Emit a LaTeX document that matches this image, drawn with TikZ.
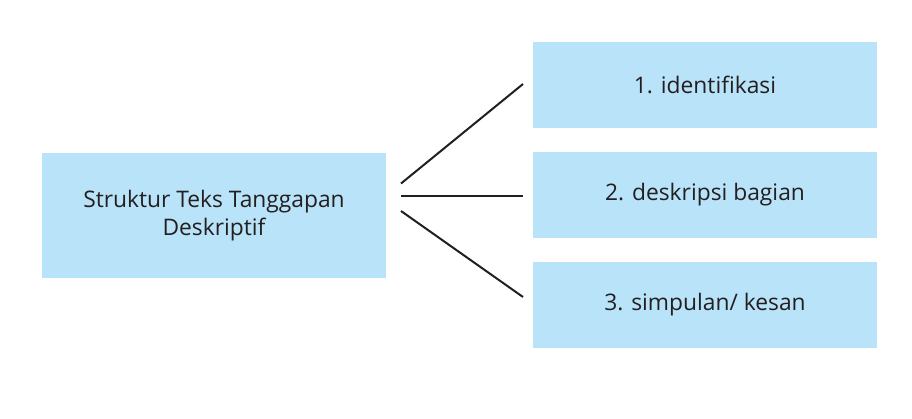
\documentclass[tikz,border=0pt]{standalone}
\usepackage{fontspec}
\setmainfont{Open Sans}
\definecolor{boxblue}{HTML}{B9E3F8}
\definecolor{ink}{HTML}{231F20}
\begin{document}
\begin{tikzpicture}[x=1pt,y=-1pt,
  bx/.style={fill=boxblue,draw=none,minimum width=344pt,inner sep=0pt,align=center,text=ink,font=\fontsize{22.8}{27.4}\selectfont},
  conn/.style={draw=ink,line width=2pt}]
\useasboundingbox[fill=white] (0,0) rectangle (912,418);
\node[bx,minimum height=125pt] (main) at (214,215.5) {Struktur Teks Tanggapan\\Deskriptif};
\node[bx,minimum height=86pt] (a) at (705,84.5) {1. identifikasi};
\node[bx,minimum height=86pt] (b) at (705,195) {2. deskripsi bagian};
\node[bx,minimum height=86pt] (c) at (705,305) {3. simpulan/ kesan};
\coordinate (s1) at (401,183.5);
\coordinate (s2) at (401,196);
\coordinate (s3) at (401,211);
\coordinate (e1) at (523,84);
\coordinate (e2) at (523,196);
\coordinate (e3) at (523,297);
\draw[conn] (s1) -- (e1);
\draw[conn] (s2) -- (e2);
\draw[conn] (s3) -- (e3);
\end{tikzpicture}
\end{document}
